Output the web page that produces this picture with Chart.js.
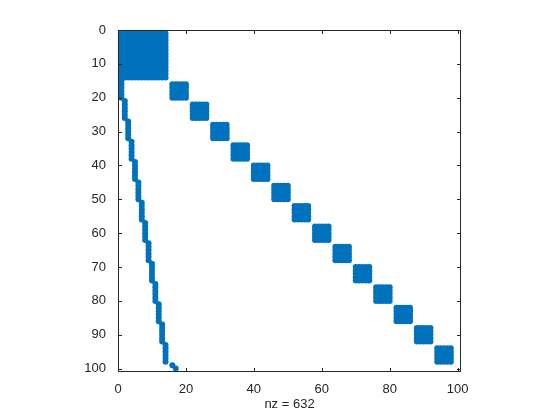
<!DOCTYPE html>
<html>
<head>
<meta charset="utf-8">
<script src="https://cdn.jsdelivr.net/npm/chart.js@4"></script>
<style>
  body { margin: 0; background: #fff; }
  #wrap { width: 560px; height: 420px; }
</style>
</head>
<body>
<div id="wrap"><canvas id="spy"></canvas></div>
<script>
// Sparsity pattern (row, column), 1-based like MATLAB's spy
const denseBlock = [1, 14];                 // rows/cols 1..14 fully filled
const blockCenters = [18, 24, 30, 36, 42, 48, 54, 60, 66, 72, 78, 84, 90, 96];
const blockHalf = 2;                        // 5x5 blocks on the diagonal
const tailRows = [];
for (let r = 15; r <= 100; r++) tailRows.push(r);
const tailCols = [
  1, 1, 1, 1, 1, 1,
  2, 2, 2, 2, 2, 2,
  3, 3, 3, 3, 3, 3,
  4, 4, 4, 4, 4, 4,
  5, 5, 5, 5, 5, 5,
  6, 6, 6, 6, 6, 6,
  7, 7, 7, 7, 7, 7,
  8, 8, 8, 8, 8, 8,
  9, 9, 9, 9, 9, 9,
  10, 10, 10, 10, 10, 10,
  11, 11, 11, 11, 11, 11,
  12, 12, 12, 12, 12, 12,
  13, 13, 13, 13, 13, 13,
  14, 14, 14, 14, 14, 14,
  16, 17
];
const xTicks = [0, 20, 40, 60, 80, 100];
const yTicks = [0, 10, 20, 30, 40, 50, 60, 70, 80, 90, 100];

// build the point list
const pts = [];
for (let r = denseBlock[0]; r <= denseBlock[1]; r++)
  for (let c = denseBlock[0]; c <= denseBlock[1]; c++) pts.push({ x: c, y: r });
blockCenters.forEach(m => {
  for (let r = m - blockHalf; r <= m + blockHalf; r++)
    for (let c = m - blockHalf; c <= m + blockHalf; c++) pts.push({ x: c, y: r });
});
tailRows.forEach((r, i) => pts.push({ x: tailCols[i], y: r }));

const ink = '#262626';

// box + inward ticks on all four sides, MATLAB style
const boxTicks = {
  id: 'boxTicks',
  afterDraw(chart) {
    const { ctx, chartArea: a, scales } = chart;
    ctx.save();
    ctx.strokeStyle = ink;
    ctx.lineWidth = 1;
    ctx.strokeRect(a.left + 0.5, a.top + 0.5, a.right - a.left - 1, a.bottom - a.top - 1);
    const len = 4;
    ctx.beginPath();
    xTicks.forEach(v => {
      const px = Math.round(scales.x.getPixelForValue(v)) + 0.5;
      ctx.moveTo(px, a.bottom); ctx.lineTo(px, a.bottom - len);
      ctx.moveTo(px, a.top); ctx.lineTo(px, a.top + len);
    });
    yTicks.forEach(v => {
      const py = Math.round(scales.y.getPixelForValue(v)) + 0.5;
      ctx.moveTo(a.left, py); ctx.lineTo(a.left + len, py);
      ctx.moveTo(a.right, py); ctx.lineTo(a.right - len, py);
    });
    ctx.stroke();
    ctx.restore();
  }
};

new Chart(document.getElementById('spy'), {
  type: 'scatter',
  data: {
    datasets: [{
      data: pts,
      backgroundColor: '#0072BD',
      borderColor: '#0072BD',
      pointRadius: 3,
      pointBorderWidth: 0
    }]
  },
  options: {
    responsive: true,
    maintainAspectRatio: false,
    animation: false,
    layout: { padding: { top: 30, right: 99, left: 0, bottom: 8 } },
    plugins: { legend: { display: false }, tooltip: { enabled: false } },
    scales: {
      x: {
        type: 'linear', min: 0, max: 101,
        afterBuildTicks: s => { s.ticks = xTicks.map(v => ({ value: v })); },
        afterFit: s => { s.height = 40; },
        grid: { display: false }, border: { display: false },
        ticks: { color: ink, font: { family: 'Liberation Sans', size: 13 }, padding: 2, maxRotation: 0 },
        title: { display: true, text: 'nz = 632', color: ink, font: { family: 'Liberation Sans', size: 13 }, padding: 0 }
      },
      y: {
        type: 'linear', min: 0, max: 101, reverse: true,
        afterBuildTicks: s => { s.ticks = yTicks.map(v => ({ value: v })); },
        afterFit: s => { s.width = 118; },
        grid: { display: false }, border: { display: false },
        ticks: { color: ink, font: { family: 'Liberation Sans', size: 13 }, padding: 4 }
      }
    }
  },
  plugins: [boxTicks]
});
</script>
</body>
</html>
